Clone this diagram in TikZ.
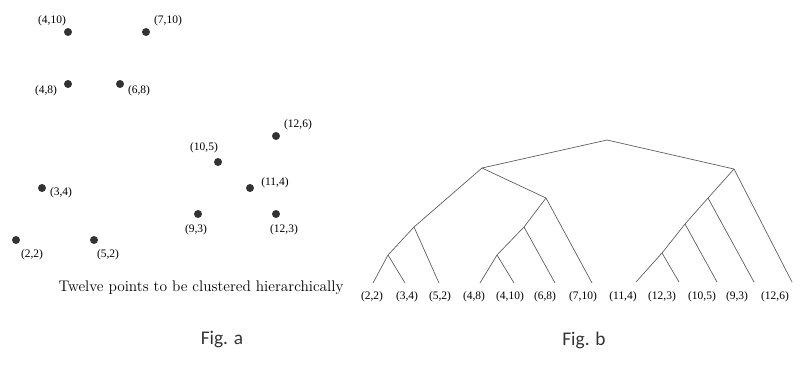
\documentclass[tikz,border=0pt]{standalone}
\usepackage{fontspec}
\usepackage{xcolor}
\usepackage{tikz}
\newfontfamily\timesfont{Liberation Serif}
\newfontfamily\calfont{Carlito}
\definecolor{dotgray}{HTML}{333333}
\definecolor{capgray}{HTML}{333333}

\begin{document}
\begin{tikzpicture}[x=0.75pt, y=-0.75pt,
    dot/.style={circle, fill=dotgray, inner sep=0pt, minimum size=6pt},
    lbl/.style={inner sep=0pt, font=\timesfont\fontsize{8.6}{10}\selectfont},
    branch/.style={draw=black!65, line width=0.5pt},
    figcap/.style={text=capgray, font=\calfont\fontsize{14.5}{16}\selectfont}]
  \useasboundingbox (0,0) rectangle (805,365);
  % Fig. a: the twelve points, in their own units
  \begin{scope}[shift={(-27pt,-219pt)}, x=19.5pt, y=19.5pt]
    \node[dot] (p410) at (4,10) {};
    \node[dot] (p710) at (7,10) {};
    \node[dot] (p48) at (4,8) {};
    \node[dot] (p68) at (6,8) {};
    \node[dot] (p126) at (12,6) {};
    \node[dot] (p105) at (9.77,5) {};
    \node[dot] (p34) at (3,4) {};
    \node[dot] (p114) at (11,4) {};
    \node[dot] (p93) at (9,3) {};
    \node[dot] (p123) at (12,3) {};
    \node[dot] (p22) at (2,2) {};
    \node[dot] (p52) at (5,2) {};
    % point labels
    \node[lbl, xshift=-12pt, yshift=8.25pt] (t410) at (p410) {(4,10)};
    \node[lbl, xshift=16.5pt, yshift=8.25pt] (t710) at (p710) {(7,10)};
    \node[lbl, xshift=-16.5pt, yshift=-5.25pt] (t48) at (p48) {(4,8)};
    \node[lbl, xshift=14.25pt, yshift=-5.25pt] (t68) at (p68) {(6,8)};
    \node[lbl, xshift=16.5pt, yshift=8.25pt] (t126) at (p126) {(12,6)};
    \node[lbl, xshift=-10.5pt, yshift=10.5pt] (t105) at (p105) {(10,5)};
    \node[lbl, xshift=14.25pt, yshift=-3.75pt] (t34) at (p34) {(3,4)};
    \node[lbl, xshift=18.75pt, yshift=3.75pt] (t114) at (p114) {(11,4)};
    \node[lbl, xshift=-1.5pt, yshift=-12pt] (t93) at (p93) {(9,3)};
    \node[lbl, xshift=6pt, yshift=-12pt] (t123) at (p123) {(12,3)};
    \node[lbl, xshift=12pt, yshift=-11.25pt] (t22) at (p22) {(2,2)};
    \node[lbl, xshift=10.5pt, yshift=-11.25pt] (t52) at (p52) {(5,2)};
  \end{scope}
  \node[inner sep=0pt, font=\fontsize{11.5}{14}\selectfont] (twelve) at (201,288)
    {Twelve points to be clustered hierarchically};

  % Fig. b: dendrogram, leaf names along the bottom
  \node[lbl] (n1) at (372,297) {(2,2)};
  \node[lbl] (n2) at (407,297) {(3,4)};
  \node[lbl] (n3) at (440,297) {(5,2)};
  \node[lbl] (n4) at (474,297) {(4,8)};
  \node[lbl] (n5) at (510,297) {(4,10)};
  \node[lbl] (n6) at (545,297) {(6,8)};
  \node[lbl] (n7) at (583,297) {(7,10)};
  \node[lbl] (n8) at (623,297) {(11,4)};
  \node[lbl] (n9) at (662,297) {(12,3)};
  \node[lbl] (n10) at (702,297) {(10,5)};
  \node[lbl] (n11) at (737,297) {(9,3)};
  \node[lbl] (n12) at (775,297) {(12,6)};
  % leaf tips
  \coordinate (l1) at (373,283);
  \coordinate (l2) at (405,283);
  \coordinate (l3) at (439,283);
  \coordinate (l4) at (480,283);
  \coordinate (l5) at (514,283);
  \coordinate (l6) at (555,283);
  \coordinate (l7) at (592,283);
  \coordinate (l8) at (636,282);
  \coordinate (l9) at (679,282);
  \coordinate (l10) at (717,282);
  \coordinate (l11) at (754,282);
  \coordinate (l12) at (792,282);
  % merges
  \coordinate (ma) at (388,255);
  \coordinate (mb) at (414,227);
  \coordinate (mc) at (497,255);
  \coordinate (md) at (524,227);
  \coordinate (me) at (546,198);
  \coordinate (mf) at (482,168);
  \coordinate (mg) at (662,253);
  \coordinate (mh) at (685,224);
  \coordinate (mi) at (708,198);
  \coordinate (mj) at (734,169);
  \coordinate (root) at (607,140);
  \draw[branch] (ma) -- (l1) (ma) -- (l2);
  \draw[branch] (mb) -- (ma) (mb) -- (l3);
  \draw[branch] (mc) -- (l4) (mc) -- (l5);
  \draw[branch] (md) -- (mc) (md) -- (l6);
  \draw[branch] (me) -- (md) (me) -- (l7);
  \draw[branch] (mf) -- (mb) (mf) -- (me);
  \draw[branch] (mg) -- (l8) (mg) -- (l9);
  \draw[branch] (mh) -- (mg) (mh) -- (l10);
  \draw[branch] (mi) -- (mh) (mi) -- (l11);
  \draw[branch] (mj) -- (mi) (mj) -- (l12);
  \draw[branch] (root) -- (mf) (root) -- (mj);

  \node[figcap] (figa) at (222,340) {Fig. a};
  \node[figcap] (figb) at (584,340) {Fig. b};
\end{tikzpicture}
\end{document}
